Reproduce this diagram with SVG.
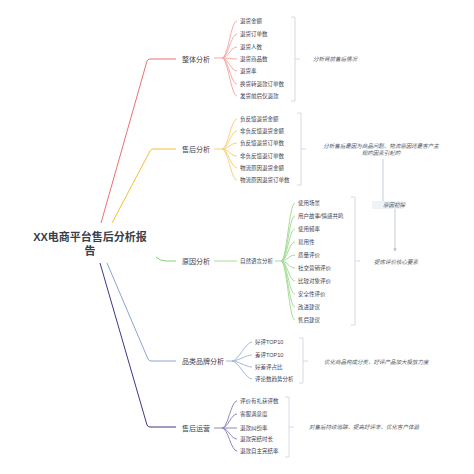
<svg xmlns="http://www.w3.org/2000/svg" width="474" height="474" viewBox="0 0 474 474">
<defs>
<style>
text{font-family:"Liberation Sans","Noto Sans CJK SC",sans-serif;dominant-baseline:central;}
.root{font-size:11px;font-weight:bold;fill:#3a3f4b;text-anchor:middle;}
.br{font-size:7px;fill:#3d4250;}
.leaf{font-size:5.5px;fill:#3d4250;}
.sum{font-size:5.5px;fill:#555a66;font-style:italic;}
.c{fill:none;stroke-width:1;}
.bk{fill:none;stroke:#c9d2de;stroke-width:0.8;}
.rel{fill:none;stroke:#b4c0cf;stroke-width:0.8;}
.red{stroke:#ef6f72;}
.red2{stroke:#f6aaa6;}
.yel{stroke:#f3c03c;}
.yel2{stroke:#f7d27a;}
.grn{stroke:#86cf78;}
.grn2{stroke:#a6dd98;}
.blu{stroke:#8ba4d6;}
.blu2{stroke:#a8b8d8;}
.pur{stroke:#3e3686;}
.pur2{stroke:#8e87bf;}
</style>
<marker id="arr" viewBox="0 0 6 6" refX="5" refY="3" markerWidth="4" markerHeight="4" orient="auto"><path d="M0,0 L6,3 L0,6 z" fill="#b4c0cf"/></marker>
</defs>
<rect width="474" height="474" fill="#ffffff"/>

<g id="connectors">
  <!-- main branches -->
  <path class="c red" d="M101,223 L147,61 Q148,59 150,59 L176,59"/>
  <path class="c yel" d="M112,223 L150,151 Q151,149 153,149 L176,149"/>
  <path class="c grn" d="M156,257 Q160,261 166,261 L176,261"/>
  <path class="c blu" d="M107,263 L148,359 Q149,361 151,361 L176,361"/>
  <path class="c pur" d="M100,263 L147,425 Q148,427 150,427 L176,427"/>

  <!-- 整体分析 fan -->
  <g class="c red2" stroke-width="0.7">
    <path d="M214,58 L222,58"/>
    <path d="M222,58 C228,58 231,21 237,21"/>
    <path d="M222,58 C228,58 231,34 237,34"/>
    <path d="M222,58 C228,58 231,47 237,47"/>
    <path d="M222,58 C228,58 231,59 237,59"/>
    <path d="M222,58 C228,58 231,71 237,71"/>
    <path d="M222,58 C228,58 231,84 237,84"/>
    <path d="M222,58 C228,58 231,96 237,96"/>
  </g>
  <!-- 售后分析 fan -->
  <g class="c yel2" stroke-width="0.7">
    <path d="M214,149 L222,149"/>
    <path d="M222,149 C228,149 231,119 237,119"/>
    <path d="M222,149 C228,149 231,131 237,131"/>
    <path d="M222,149 C228,149 231,143 237,143"/>
    <path d="M222,149 C228,149 231,156 237,156"/>
    <path d="M222,149 C228,149 231,168 237,168"/>
    <path d="M222,149 C228,149 231,180 237,180"/>
  </g>
  <!-- 原因分析 -->
  <g class="c grn2" stroke-width="0.7">
    <path d="M214,261 L237,261"/>
    <path d="M275,261 L281,261"/>
    <path d="M281,261 C287,261 289,203 295,203"/>
    <path d="M281,261 C287,261 289,216 295,216"/>
    <path d="M281,261 C287,261 289,229 295,229"/>
    <path d="M281,261 C287,261 289,242 295,242"/>
    <path d="M281,261 C287,261 289,255 295,255"/>
    <path d="M281,261 C287,261 289,268 295,268"/>
    <path d="M281,261 C287,261 289,281 295,281"/>
    <path d="M281,261 C287,261 289,294 295,294"/>
    <path d="M281,261 C287,261 289,307 295,307"/>
    <path d="M281,261 C287,261 289,320 295,320"/>
  </g>
  <!-- 品类品牌分析 fan -->
  <g class="c blu2" stroke-width="0.7">
    <path d="M226,361 L232,361"/>
    <path d="M232,361 C238,361 246,342 252,342"/>
    <path d="M232,361 C238,361 246,355 252,355"/>
    <path d="M232,361 C238,361 246,367 252,367"/>
    <path d="M232,361 C238,361 246,379 252,379"/>
  </g>
  <!-- 售后运营 fan -->
  <g class="c pur2" stroke-width="0.7">
    <path d="M214,428 L222,428"/>
    <path d="M222,428 C228,428 231,401 237,401"/>
    <path d="M222,428 C228,428 231,414 237,414"/>
    <path d="M222,428 C228,428 231,428 237,428"/>
    <path d="M222,428 C228,428 231,439 237,439"/>
    <path d="M222,428 C228,428 231,451 237,451"/>
  </g>

  <!-- summary brackets -->
  <path class="bk" d="M291,17 L295,17 L295,101 L291,101 M295,59 L300,59"/>
  <path class="bk" d="M297,113 L301,113 L301,185 L297,185 M301,149 L306,149"/>
  <path class="bk" d="M351,197 L355,197 L355,325 L351,325 M355,261 L360,261"/>
  <path class="bk" d="M299,338 L303,338 L303,383 L299,383 M303,361 L308,361"/>
  <path class="bk" d="M285,397 L289,397 L289,457 L285,457 M289,427 L294,427"/>

  <!-- relationship -->
  <path class="rel" d="M383,159 L383,202"/>
  <path class="rel" d="M395,208 L395,251" marker-end="url(#arr)"/>
</g>

<g id="root"><text class="root" x="90" y="237">XX电商平台售后分析报</text><text class="root" x="90" y="251">告</text></g>

<g id="b1"><text class="br" x="182" y="59">整体分析</text></g>
<g id="b1-leaves">
  <text class="leaf" x="240" y="21">退货金额</text>
  <text class="leaf" x="240" y="34">退货订单数</text>
  <text class="leaf" x="240" y="47">退货人数</text>
  <text class="leaf" x="240" y="59">退货商品数</text>
  <text class="leaf" x="240" y="71">退货率</text>
  <text class="leaf" x="240" y="84">换货转退款订单数</text>
  <text class="leaf" x="240" y="96">发货前后仅退款</text>
</g>
<g id="s1"><text class="sum" x="313" y="59">分析目前售后情况</text></g>

<g id="b2"><text class="br" x="182" y="149">售后分析</text></g>
<g id="b2-leaves">
  <text class="leaf" x="240" y="119">负反馈退货金额</text>
  <text class="leaf" x="240" y="131">非负反馈退货金额</text>
  <text class="leaf" x="240" y="143">负反馈退货订单数</text>
  <text class="leaf" x="240" y="156">非负反馈退订单数</text>
  <text class="leaf" x="240" y="168">物流原因退货金额</text>
  <text class="leaf" x="240" y="180">物流原因退货订单数</text>
</g>
<g id="s2"><text class="sum" x="381" y="146" text-anchor="middle">分析售后是因为商品问题、物流原因还是客户主</text><text class="sum" x="381" y="153" text-anchor="middle">观的因素引起的</text></g>

<g id="b3"><text class="br" x="182" y="261">原因分析</text></g>
<g id="b3-1"><text class="leaf" x="240" y="261">自然语言分析</text></g>
<g id="b3-leaves">
  <text class="leaf" x="298" y="203">使用场景</text>
  <text class="leaf" x="298" y="216">用户故事/情感共鸣</text>
  <text class="leaf" x="298" y="229">使用频率</text>
  <text class="leaf" x="298" y="242">易用性</text>
  <text class="leaf" x="298" y="255">质量评价</text>
  <text class="leaf" x="298" y="268">社交营销评价</text>
  <text class="leaf" x="298" y="281">比较对象评价</text>
  <text class="leaf" x="298" y="294">安全性评价</text>
  <text class="leaf" x="298" y="307">改进建议</text>
  <text class="leaf" x="298" y="320">售后建议</text>
</g>
<g id="s3"><text class="sum" x="374" y="262">提炼评价核心要素</text></g>
<g id="rel-label"><rect x="372" y="201" width="32" height="8" fill="#eef3f8"/><text class="sum" x="383" y="205">原因初探</text></g>

<g id="b4"><text class="br" x="182" y="361">品类品牌分析</text></g>
<g id="b4-leaves">
  <text class="leaf" x="255" y="342">好评TOP10</text>
  <text class="leaf" x="255" y="355">差评TOP10</text>
  <text class="leaf" x="255" y="367">好差评占比</text>
  <text class="leaf" x="255" y="379">评论数趋势分析</text>
</g>
<g id="s4"><text class="sum" x="324" y="362">优化商品构成分类，好评产品加大投放力度</text></g>

<g id="b5"><text class="br" x="182" y="428">售后运营</text></g>
<g id="b5-leaves">
  <text class="leaf" x="240" y="401">评价有礼获评数</text>
  <text class="leaf" x="240" y="414">客服满意度</text>
  <text class="leaf" x="240" y="428">退款纠纷率</text>
  <text class="leaf" x="240" y="439">退款完结时长</text>
  <text class="leaf" x="240" y="451">退款自主完结率</text>
</g>
<g id="s5"><text class="sum" x="309" y="427">对售后持续追踪，提高好评率，优化客户体验</text></g>
</svg>
